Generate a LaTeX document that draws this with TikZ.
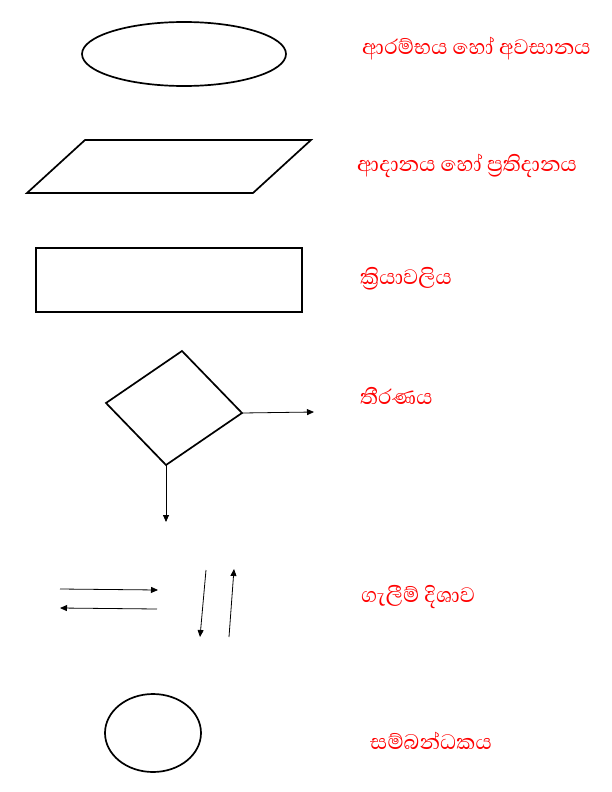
\documentclass[tikz,border=0pt]{standalone}
\usepackage{fontspec}
\newfontfamily\sinhalafont[Script=Sinhala]{Abhaya Libre}
\usetikzlibrary{shapes.geometric,arrows.meta}
\begin{document}
\begin{tikzpicture}[x=1pt,y=-1pt,
  shp/.style={draw=black,line width=1.7pt},
  flow/.style={draw=black,line width=0.8pt,-{Triangle[length=7pt,width=6pt]}},
  lbl/.style={text=red,font=\sinhalafont\fontsize{26.8}{30}\selectfont,anchor=west,inner sep=0pt}]
\useasboundingbox (0,0) rectangle (612,792);
% terminal
\node[shp,ellipse,minimum width=204pt,minimum height=64pt,inner sep=0pt] (term) at (184,54) {};
% input/output
\coordinate (p1) at (27,193); \coordinate (p2) at (85,140);
\coordinate (p3) at (311,140); \coordinate (p4) at (253,193);
\draw[shp,line join=miter] (p1) -- (p2) -- (p3) -- (p4) -- cycle;
% process
\node[shp,rectangle,minimum width=266pt,minimum height=64pt,inner sep=0pt] (proc) at (169,280) {};
% decision
\coordinate (dt) at (182,351); \coordinate (dr) at (242,413);
\coordinate (db) at (166,465); \coordinate (dl) at (106,403);
\draw[shp] (dt) -- (dr) -- (db) -- (dl) -- cycle;
\coordinate (de1) at (314,412); \coordinate (de2) at (166,522);
\draw[flow] (dr) -- (de1);
\draw[flow] (db) -- (de2);
% flow lines
\coordinate (a1) at (60,589); \coordinate (a2) at (158,590);
\coordinate (b1) at (157,609); \coordinate (b2) at (60,608);
\coordinate (c1) at (206,570); \coordinate (c2) at (200,637);
\coordinate (d1) at (229,637); \coordinate (d2) at (234,569);
\draw[flow] (a1) -- (a2);
\draw[flow] (b1) -- (b2);
\draw[flow] (c1) -- (c2);
\draw[flow] (d1) -- (d2);
% connector
\node[shp,ellipse,minimum width=96pt,minimum height=78pt,inner sep=0pt] (conn) at (153,733) {};
% labels
\node[lbl] (l1) at (362,49) {ආරම්භය හෝ අවසානය};
\node[lbl] (l2) at (357,166) {ආදානය හෝ ප්‍රතිදානය};
\node[lbl] (l3) at (360,279) {ක්‍රියාවලිය};
\node[lbl] (l4) at (360,396) {තීරණය};
\node[lbl] (l5) at (361,597) {ගැලීම් දිශාව};
\node[lbl] (l6) at (370,741) {සම්බන්ධකය};
\end{tikzpicture}
\end{document}
